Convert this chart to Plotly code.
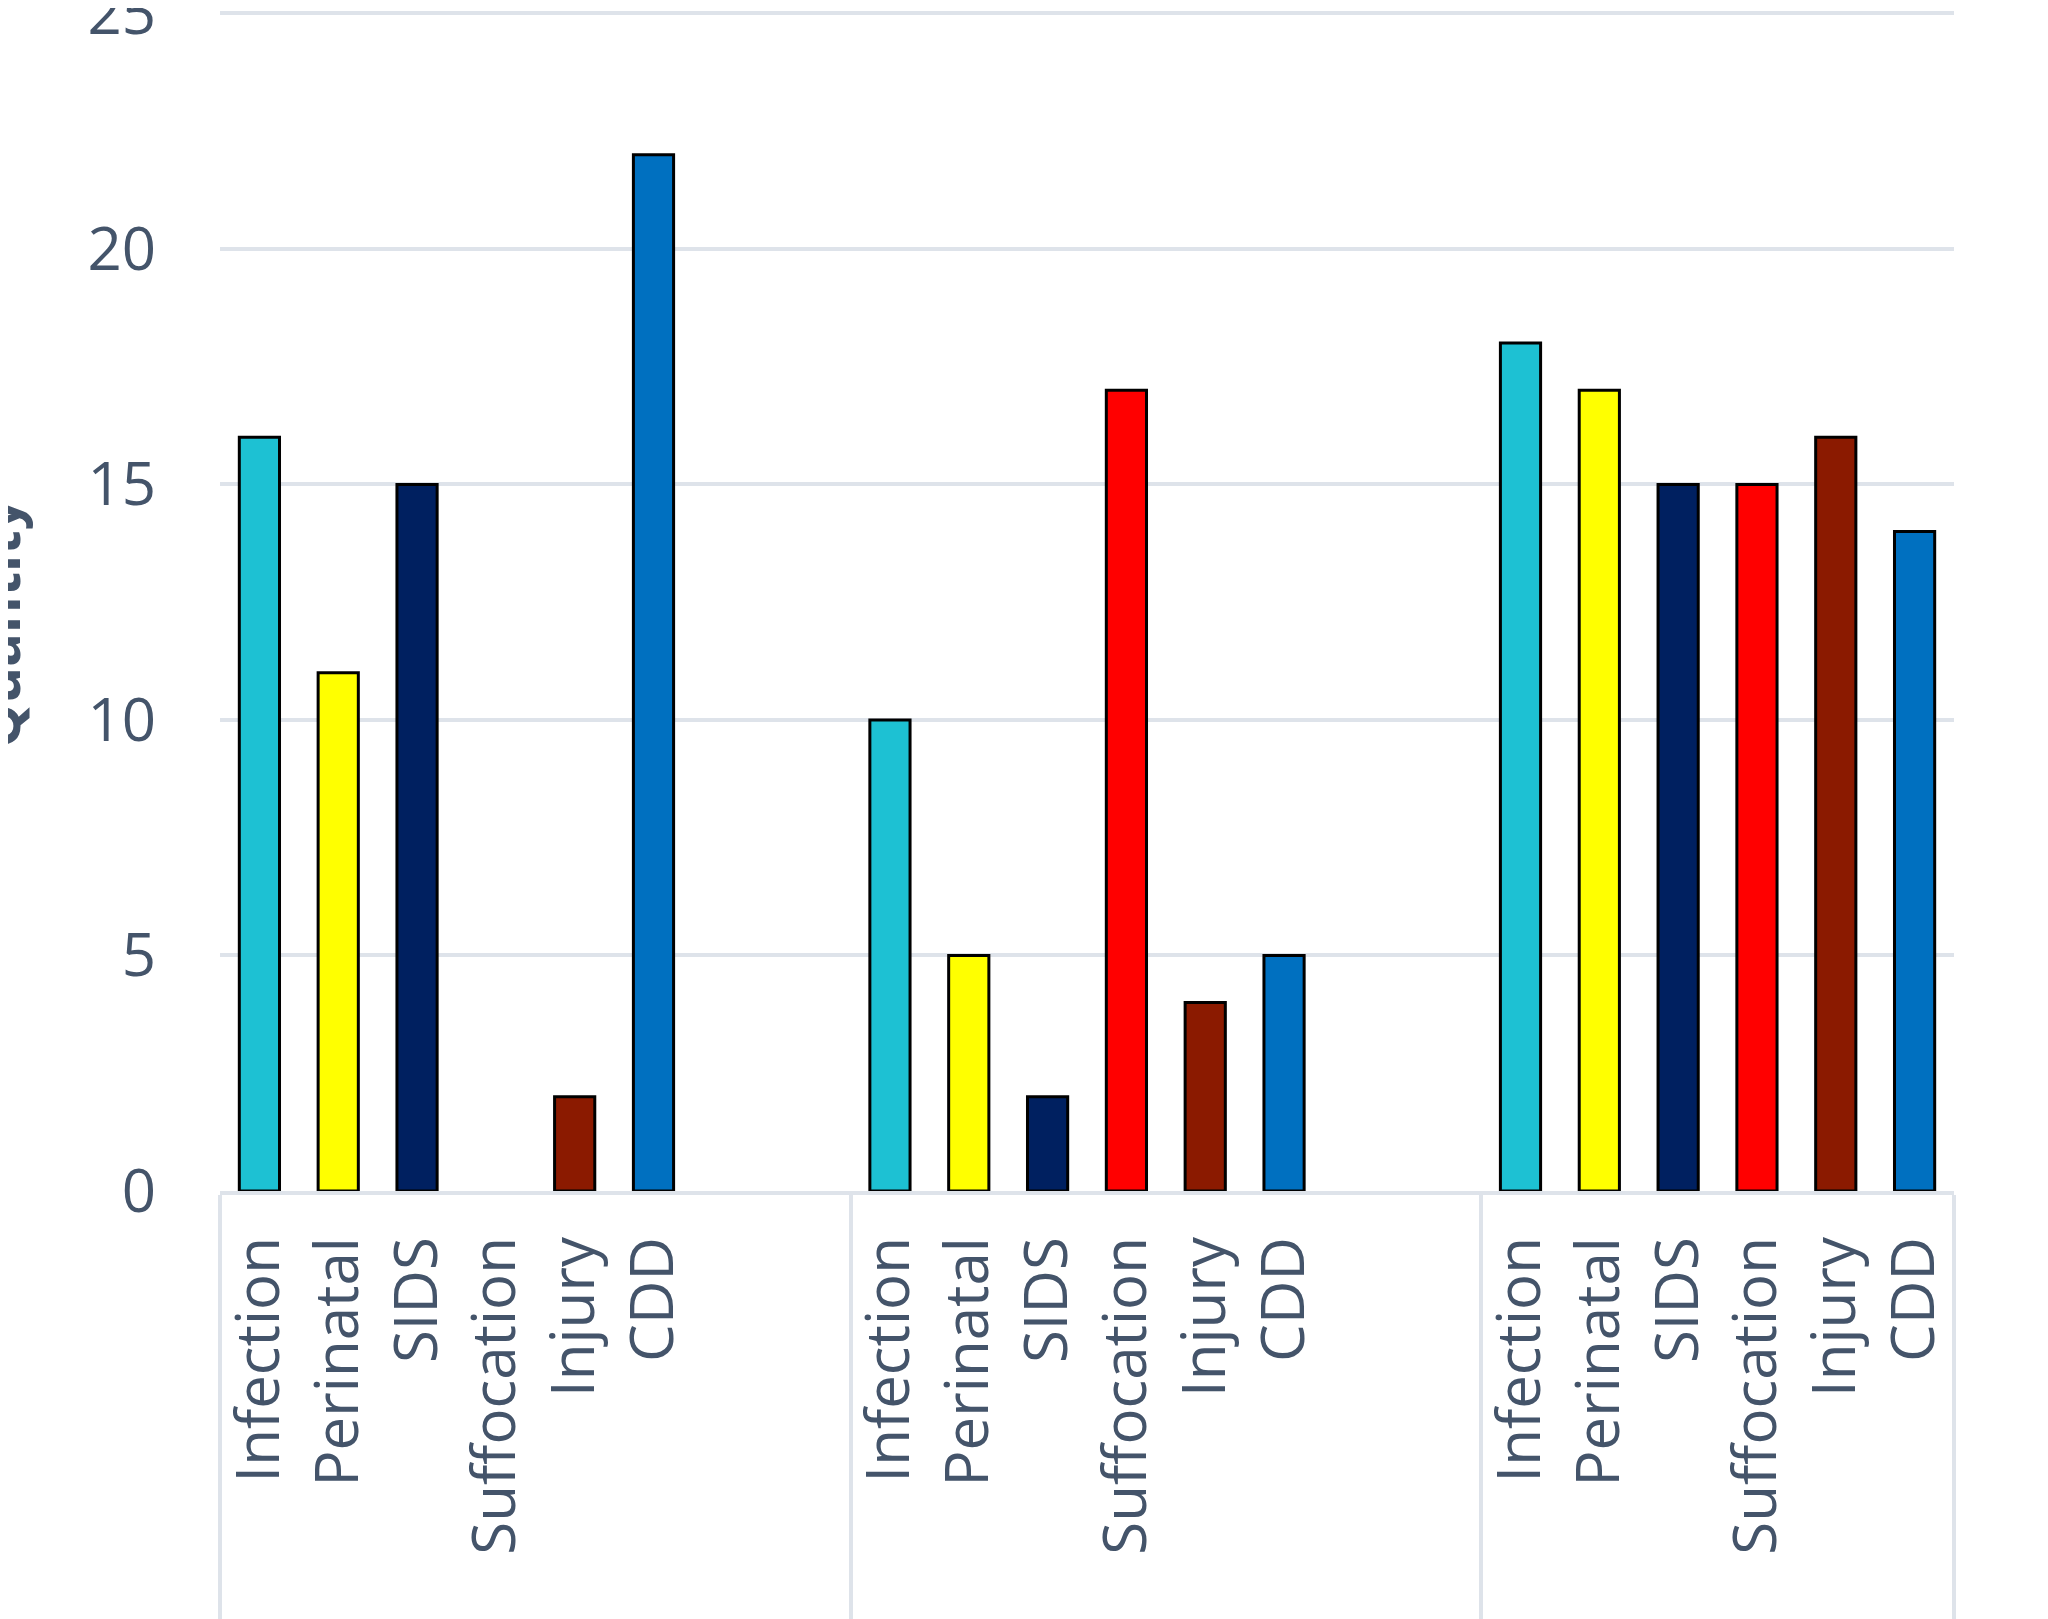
import plotly.graph_objects as go

# ---- data ----
groups = ["Group 1", "Group 2", "Group 3"]          # group labels lie below the visible area
causes = ["Infection", "Perinatal", "SIDS", "Suffocation", "Injury", "CDD"]
cause_colors = ["#1DC1D3", "#FFFF00", "#002060", "#FF0000", "#8B1A00", "#0070C0"]
values_g1 = [16, 11, 15, 0, 2, 22]
values_g2 = [10, 5, 2, 17, 4, 5]
values_g3 = [18, 17, 15, 15, 16, 14]
blank_slots = [" ", "  "]                           # empty category slots in groups 1 and 2
y_ticks = [0, 5, 10, 15, 20, 25]
y_title = "Quantity"

TEXT = "#44546A"
GRID = "#DEE3EA"
FONT = "Open Sans"

group_values = [values_g1, values_g2, values_g3]
group_blanks = [blank_slots, blank_slots, []]

x_grp, x_cat, ys, cols, lws = [], [], [], [], []
for g, vals, blanks in zip(groups, group_values, group_blanks):
    for c, v, col in zip(causes, vals, cause_colors):
        x_grp.append("<br><br><br>" + g)
        x_cat.append(c)
        ys.append(v)
        cols.append(col)
        lws.append(3 if v else 0)
    for b in blanks:
        x_grp.append("<br><br><br>" + g)
        x_cat.append(b)
        ys.append(None)
        cols.append("rgba(0,0,0,0)")
        lws.append(0)

fig = go.Figure(
    go.Bar(
        x=[x_grp, x_cat],
        y=ys,
        marker=dict(color=cols, line=dict(color="#000000", width=lws)),
        showlegend=False,
    )
)

fig.update_layout(
    width=2048,
    height=1619,
    margin=dict(l=212, r=102, t=3, b=436, pad=0),
    paper_bgcolor="white",
    plot_bgcolor="white",
    bargap=0.49,
    font=dict(family=FONT, color=TEXT, size=60),
    annotations=[
        dict(
            text="<b>" + y_title + "</b>",
            textangle=-90,
            xref="paper", yref="paper",
            x=-0.1045, y=0.481,
            xanchor="right", yanchor="middle",
            showarrow=False,
            font=dict(family=FONT, size=56, color=TEXT),
        )
    ],
)

fig.update_xaxes(
    type="multicategory",
    tickangle=-90,
    tickfont=dict(family=FONT, size=60, color=TEXT),
    showline=True,
    linecolor=GRID,
    linewidth=4,
    showgrid=False,
    ticks="",
    showdividers=True,
    dividercolor=GRID,
    dividerwidth=4,
    ticklabelstandoff=18,
    automargin=False,
)

fig.update_yaxes(
    range=[0, 25.05],
    tickvals=y_ticks,
    ticktext=[str(t) for t in y_ticks],
    tickfont=dict(family=FONT, size=60, color=TEXT),
    ticklabeloverflow="allow",
    showgrid=True,
    gridcolor=GRID,
    gridwidth=4,
    zeroline=False,
    showline=False,
    ticks="",
    ticklabelstandoff=63,
    automargin=False,
)

fig.write_html("out.html")
